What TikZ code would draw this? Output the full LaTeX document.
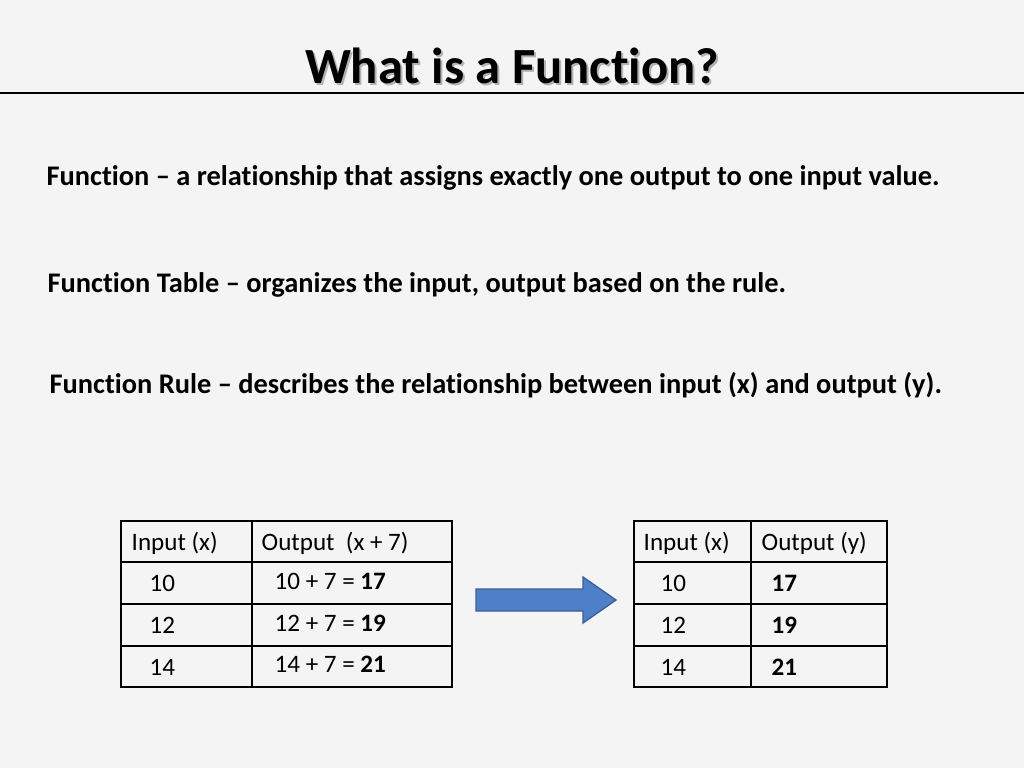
\documentclass[tikz,border=0pt]{standalone}
\usepackage{fontspec}
\setmainfont[Ligatures=NoCommon]{Carlito}
\definecolor{bg}{HTML}{F4F4F4}
\definecolor{ablue}{HTML}{4F7FC8}
\definecolor{aedge}{HTML}{3A5F95}
\tikzset{def/.style={anchor=west,font=\fontsize{21.3}{24}\selectfont\bfseries},
 cell/.style={anchor=west,font=\fontsize{18.8}{21}\selectfont},
 grid/.style={line width=0.9pt}}
\begin{document}
\begin{tikzpicture}[x=0.75pt,y=-0.75pt]
\fill[bg] (0,0) rectangle (1024,768);
\useasboundingbox (0,0) rectangle (1024,768);
\node[font=\fontsize{38}{40}\selectfont\bfseries,text=gray!60] at (514,68) {What is a Function?};
\node[font=\fontsize{38}{40}\selectfont\bfseries] (title) at (512,66) {What is a Function?};
\draw[line width=2.2pt] (0,93) -- (1024,93);
\node[def] (d1) at (42,178) {Function – a relationship that assigns exactly one output to one input value.};
\node[def] (d2) at (43,285) {Function Table – organizes the input, output based on the rule.};
\node[def] (d3) at (45,385) {Function Rule – describes the relationship between input (x) and output (y).};
% left table
\draw[grid] (121,521) rectangle (452,687);
\foreach \y in {562,604,646} \draw[grid] (121,\y) -- (452,\y);
\draw[grid] (252,521) -- (252,687);
\node[cell] (l0a) at (127,543) {Input (x)};
\node[cell] (l0b) at (257,543) {Output\ \ (x + 7)};
\node[cell] (l1a) at (145,583) {10};
\node[cell] (l2a) at (145,625) {12};
\node[cell] (l3a) at (145,667) {14};
\node[cell] (l1b) at (270,581) {10 + 7 = \textbf{17}};
\node[cell] (l2b) at (270,623) {12 + 7 = \textbf{19}};
\node[cell] (l3b) at (270,664) {14 + 7 = \textbf{21}};
% right table
\draw[grid] (634,521) rectangle (887,687);
\foreach \y in {562,604,646} \draw[grid] (634,\y) -- (887,\y);
\draw[grid] (751,521) -- (751,687);
\node[cell] (r0a) at (639,543) {Input (x)};
\node[cell] (r0b) at (757,543) {Output (y)};
\node[cell] (r1a) at (656,583) {10};
\node[cell] (r2a) at (656,625) {12};
\node[cell] (r3a) at (656,667) {14};
\node[cell] (r1b) at (767,583) {\textbf{17}};
\node[cell] (r2b) at (767,625) {\textbf{19}};
\node[cell] (r3b) at (767,667) {\textbf{21}};
% arrow
\draw[fill=ablue,draw=aedge,line width=1pt] (476,589) -- (583,589) -- (583,577) -- (616,600) -- (583,623) -- (583,611) -- (476,611) -- cycle;
\end{tikzpicture}
\end{document}
